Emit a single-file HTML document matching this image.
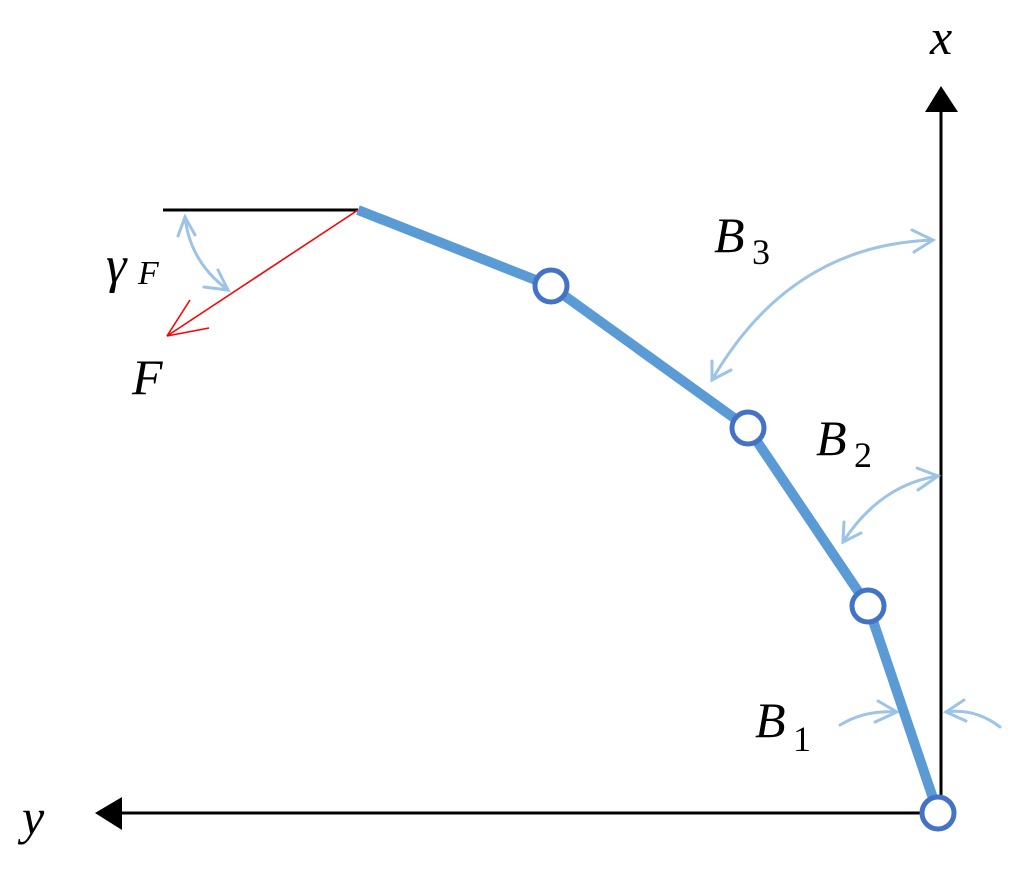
<!DOCTYPE html>
<html><head><style>
html,body{margin:0;padding:0;background:#fff;}
svg{display:block;}
text{font-family:"Liberation Serif",serif;font-style:italic;fill:#000;}
</style></head><body>
<svg width="1024" height="876" viewBox="0 0 1024 876" xmlns="http://www.w3.org/2000/svg">
<!-- axes -->
<line x1="941" y1="813" x2="941" y2="108" stroke="#000" stroke-width="3"/>
<polygon points="941,86 925,112 958,112" fill="#000"/>
<line x1="941" y1="813" x2="118" y2="813" stroke="#000" stroke-width="3"/>
<polygon points="95,813 122,797 122,830" fill="#000"/>
<line x1="163" y1="210" x2="358" y2="210" stroke="#000" stroke-width="3"/>
<g stroke="#ff0000" stroke-width="1.6" fill="none">
<line x1="358" y1="210" x2="167" y2="336"/>
<line x1="167" y1="336" x2="190" y2="300"/>
<line x1="167" y1="336" x2="209" y2="328"/>
</g>
<g stroke="#9dc3e6" stroke-width="3" fill="none" stroke-linecap="round">
<path d="M933,240 Q790,245 712,380"/>
<path d="M912,230 L933,240 L914,252"/>
<path d="M712,361 L712,380 L731,370"/>
<path d="M938,476 Q880,485 843,542"/>
<path d="M917,468 L938,476 L918,490"/>
<path d="M844,522 L843,542 L861,533"/>
<path d="M840,725 Q865,710 895,712"/>
<path d="M878,701 L897,712 L875,722"/>
<path d="M1000,727 Q975,708 946,712"/>
<path d="M964,700 L946,712 L966,721"/>
<path d="M185,217 Q190,262 228,290"/>
<path d="M178,236 L185,217 L195,235"/>
<path d="M204,287 L228,290 L218,270"/>
</g>
<polyline points="938,813 868,606 748,428 551,286 358,210" fill="none" stroke="#5b9bd5" stroke-width="10" stroke-linejoin="round"/>
<g fill="#fff" stroke="#4472c4" stroke-width="5">
<circle cx="938" cy="813" r="16"/>
<circle cx="868" cy="606" r="16"/>
<circle cx="748" cy="428" r="16"/>
<circle cx="551" cy="286" r="16"/>
</g>
<text x="930" y="54" font-size="50">x</text>
<text x="22" y="834" font-size="50">y</text>
<text x="714" y="252" font-size="50">B</text><text x="752" y="264" font-size="36" style="font-style:normal">3</text>
<text x="816" y="455" font-size="50">B</text><text x="854" y="467" font-size="36" style="font-style:normal">2</text>
<text x="755" y="737" font-size="50">B</text><text x="793" y="751" font-size="36" style="font-style:normal">1</text>
<text x="106" y="282" font-size="52">γ</text><text x="138" y="284" font-size="34">F</text>
<text x="132" y="394" font-size="50">F</text>
</svg>
</body></html>
